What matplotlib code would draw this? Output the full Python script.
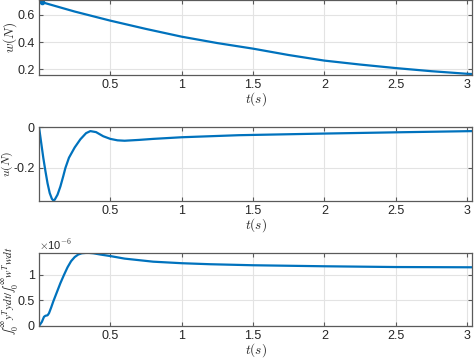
"""Three stacked MATLAB-style response plots: w(t), u(t) and the energy ratio."""

import matplotlib

matplotlib.use("Agg")
import matplotlib.pyplot as plt

# w(N) disturbance
t_w = [0, 0.25, 0.5, 0.75, 1.0, 1.25, 1.5, 1.75, 2.0, 2.25, 2.5, 2.75, 3.0, 3.04]
w_vals = [0.70, 0.625, 0.558, 0.497, 0.44, 0.393, 0.352, 0.305, 0.264, 0.235, 0.209, 0.186, 0.167, 0.165]

# u(N) control input
t_u = [0, 0.01, 0.02, 0.03, 0.045, 0.06, 0.075, 0.09, 0.1, 0.11, 0.13, 0.15, 0.17, 0.185,
       0.21, 0.25, 0.29, 0.33, 0.36, 0.40, 0.45, 0.5, 0.55, 0.6, 0.7, 0.8, 1.0, 1.4, 2.0, 2.5, 3.04]
u_vals = [0, -0.05, -0.1, -0.15, -0.215, -0.275, -0.322, -0.35, -0.358, -0.355, -0.33, -0.29, -0.24, -0.2,
          -0.15, -0.1, -0.06, -0.03, -0.02, -0.025, -0.045, -0.058, -0.065, -0.067, -0.063, -0.058,
          -0.05, -0.04, -0.032, -0.026, -0.02]

# energy ratio (x 1e-6)
t_r = [0, 0.02, 0.035, 0.045, 0.06, 0.07, 0.085, 0.1, 0.125, 0.15, 0.175, 0.2, 0.225, 0.25, 0.275,
       0.3, 0.34, 0.38, 0.43, 0.5, 0.6, 0.7, 0.8, 1.0, 1.2, 1.5, 2.0, 2.5, 3.04]
r_vals = [0, 0.08, 0.18, 0.2, 0.21, 0.25, 0.36, 0.48, 0.66, 0.84, 1.0, 1.15, 1.27, 1.35, 1.4,
          1.425, 1.435, 1.425, 1.4, 1.37, 1.32, 1.29, 1.26, 1.23, 1.21, 1.19, 1.17, 1.155, 1.15]

x_ticks = [0.5, 1, 1.5, 2, 2.5, 3]
LINE = "#0072BD"
AX_COL = "#5a5a5a"
TXT = "#262626"

plt.rcParams["font.family"] = ["Liberation Sans", "DejaVu Sans"]
plt.rcParams["mathtext.fontset"] = "cm"

fig = plt.figure(figsize=(4.74, 3.58), dpi=100)
W, H = 474, 358
left, width = 39 / W, (472 - 39) / W
boxes = [(0, 75), (127, 201), (253, 326)]
axes = [fig.add_axes([left, 1 - bot / H, width, (bot - top) / H]) for top, bot in boxes]

for ax in axes:
    ax.set_xlim(0, 3.035)
    ax.set_xticks(x_ticks)
    ax.set_xticklabels([f"{v:g}" for v in x_ticks])
    ax.grid(True, color="#e3e3e3", linewidth=0.8)
    ax.set_axisbelow(True)
    ax.tick_params(direction="in", length=3, width=0.8, colors=AX_COL, labelcolor=TXT,
                   labelsize=9, top=True, right=True, pad=3)
    for sp in ax.spines.values():
        sp.set_color(AX_COL)
        sp.set_linewidth(0.9)
    ax.set_xlabel(r"$t(s)$", fontsize=9.5, labelpad=-1, color=TXT)

ax1, ax2, ax3 = axes

ax1.plot(t_w, w_vals, color=LINE, linewidth=1.6)
ax1.plot(t_w[0] + 0.02, w_vals[0] - 0.005, marker="o", markersize=3, color=LINE)
ax1.set_ylim(0.158, 0.71)
ax1.set_yticks([0.2, 0.4, 0.6])
ax1.set_yticklabels(["0.2", "0.4", "0.6"])
ax1.set_ylabel(r"$w(N)$", fontsize=9.5, color=TXT)
ax1.yaxis.set_label_coords((19 - 39) / 433, 0.5)

ax2.plot(t_u, u_vals, color=LINE, linewidth=1.6)
ax2.set_ylim(-0.361, 0)
ax2.set_yticks([-0.2, 0])
ax2.set_yticklabels(["-0.2", "0"])
ax2.set_ylabel(r"$u(N)$", fontsize=8.5, color=TXT)
ax2.yaxis.set_label_coords((15 - 39) / 433, 0.5)

ax3.plot(t_r, r_vals, color=LINE, linewidth=1.6)
ax3.set_ylim(0, 1.43)
ax3.set_yticks([0, 0.5, 1])
ax3.set_yticklabels(["0", "0.5", "1"])
ax3.text(0.0, 1.02, r"$\times$10$^{\mathsf{-6}}$", transform=ax3.transAxes, fontsize=8,
         color=TXT, va="bottom", ha="left")
ax3.set_ylabel(r"$\int_0^\infty y^Tydt/\int_0^\infty w^Twdt$", fontsize=8, color=TXT,
               math_fontfamily="stix")
ax3.yaxis.set_label_coords((21 - 39) / 433, 0.48)

fig.savefig("out.png", dpi=100)
